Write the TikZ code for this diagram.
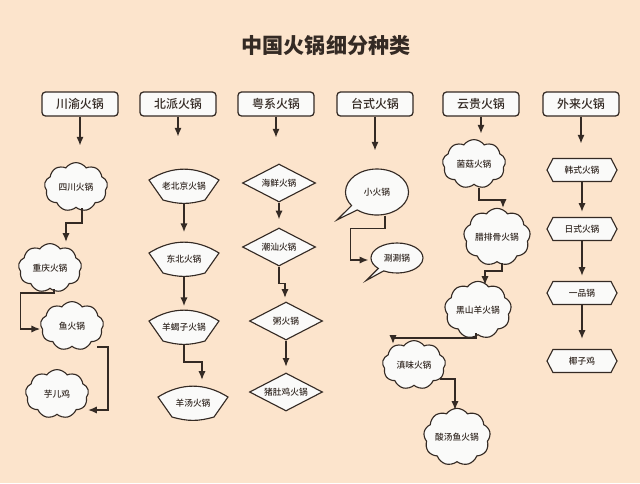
\documentclass[tikz,border=0pt]{standalone}
\usepackage{fontspec}
\setmainfont{Noto Sans CJK SC}
\newfontfamily\cjkmed{Noto Sans CJK SC}[UprightFont=* Medium]
\usetikzlibrary{arrows.meta,shapes.geometric,shapes.symbols,shapes.callouts,positioning}
\definecolor{peach}{RGB}{252,228,204}
\definecolor{ink}{RGB}{52,42,36}
\definecolor{paper}{RGB}{250,250,249}
\pgfdeclarelayer{bg}
\pgfsetlayers{bg,main}

\begin{document}
\begin{tikzpicture}[x=0.025cm, y=-0.025cm, >={Latex[length=2.2mm,width=1.8mm]},
	every node/.style={font=\cjkmed\fontsize{6.2pt}{7pt}\selectfont, text=ink},
	hdbox/.style={draw=ink, fill=paper, line width=0.9pt, rounded corners=2.5pt, minimum width=1.9cm, minimum height=0.6cm, inner sep=0pt, font=\cjkmed\fontsize{8.5pt}{10pt}\selectfont},
	puff/.style={cloud, cloud puffs=9, cloud puff arc=110, aspect=1.25, draw=ink, fill=paper, line width=0.8pt, minimum width=1.58cm, minimum height=1.22cm, inner sep=0pt},
	fan/.style={minimum width=1.75cm, minimum height=0.825cm, inner sep=0pt},
	fanline/.style={draw=ink, fill=paper, line width=0.8pt},
	rhomb/.style={diamond, aspect=2, draw=ink, fill=paper, line width=0.8pt, minimum width=1.825cm, minimum height=0.95cm, inner sep=0pt},
	bubble/.style={ellipse callout, draw=ink, fill=paper, line width=0.8pt, inner sep=0pt},
	hexbox/.style={signal, signal to=west and east, signal pointer angle=125, draw=ink, fill=paper, line width=0.8pt, minimum width=1.75cm, minimum height=0.575cm, inner sep=0pt},
	conn/.style={draw=ink, line width=1.1pt, ->}]
	\useasboundingbox (0,0) rectangle (640,483);

	% title
	\node[font=\fontsize{15pt}{17pt}\selectfont\bfseries] (title) at (326,45) {中国火锅细分种类};

	% column heads
	\node[hdbox] (cy) at (80,104) {川渝火锅};
	\node[hdbox] (bp) at (178,104) {北派火锅};
	\node[hdbox] (yx) at (276,104) {粤系火锅};
	\node[hdbox] (ts) at (375,104) {台式火锅};
	\node[hdbox] (yg) at (481,104) {云贵火锅};
	\node[hdbox] (wl) at (581,104) {外来火锅};
	\foreach \h/\l in {cy/29, bp/20, yx/21, ts/34, yg/17, wl/27} {
		\coordinate (\h-tip) at ([shift={(0,\l)}]\h.south);
		\draw[conn] (\h.south) -- (\h-tip);
	}

	% chuanyu
	\node[puff] (sc) at (76,187) {四川火锅};
	\node[puff] (cq) at (50,268) {重庆火锅};
	\node[puff] (yu) at (72,326) {鱼火锅};
	\node[puff] (ye) at (57,394) {芋儿鸡};
	\draw[conn] ([shift={(6,0)}]sc.south) -- ++(0,15) -| ([shift={(16,-26)}]cq.center);
	\draw[conn] ([shift={(4,0)}]cq.south) -- ++(0,4) -| ([shift={(-20,3)}]yu.west) -- ([shift={(0,3)}]yu.west);
	\draw[conn] ([shift={(25,21)}]yu.center) -| ([shift={(51,16)}]ye.center) -- ([shift={(31,16)}]ye.center);

	% beipai
	\node[fan] (lbj) at (184,186) {老北京火锅};
	\node[fan] (db) at (184,259) {东北火锅};
	\node[fan] (yxz) at (184,327) {羊蝎子火锅};
	\node[fan] (yt) at (193,403) {羊汤火锅};
	\draw[conn, shorten >=0.25cm] (lbj.south) -- (db.north);
	\draw[conn, shorten >=0.1cm] (db.south) -- (yxz.north);
	\draw[conn] (yxz.south) -- ++(0,18) -| ([shift={(9,-23)}]yt.center);

	% yuexi
	\node[rhomb] (hx) at (279,183) {海鲜火锅};
	\node[rhomb] (cs) at (279,247) {潮汕火锅};
	\node[rhomb] (zh) at (286,321) {粥火锅};
	\node[rhomb] (zd) at (286,392) {猪肚鸡火锅};
	\draw[conn, shorten >=0.2cm] (hx.south) -- (cs.north);
	\draw[conn] (cs.south) -- ++(0,17) -| ([shift={(-1,-23)}]zh.center);
	\draw[conn, shorten >=0.14cm] (zh.south) -- (zd.north);

	% taishi
	\node[bubble, minimum width=1.575cm, minimum height=1.15cm, callout relative pointer={(-0.43cm,-0.3cm)}] (xh) at (377,192) {小火锅};
	\node[bubble, minimum width=1.3cm, minimum height=0.75cm, callout relative pointer={(-0.37cm,-0.27cm)}] (ss) at (397,258) {涮涮锅};
	\draw[conn] ([shift={(8,0)}]xh.south) -- ++(0,13) -| ([shift={(-20,2)}]ss.west) -- ([shift={(-2,2)}]ss.west);

	% yungui
	\node[puff] (jg) at (474,164) {菌菇火锅};
	\node[puff] (lp) at (497,237) {腊排骨火锅};
	\node[puff] (hs) at (478,310) {黑山羊火锅};
	\node[puff] (dw) at (414,365) {滇味火锅};
	\node[puff] (st) at (457,437) {酸汤鱼火锅};
	\draw[conn] ([shift={(5,24)}]jg.center) -- ++(0,12) -| ([shift={(6,-29)}]lp.center);
	\draw[conn] ([shift={(5,26)}]lp.center) -- ++(0,8) -| ([shift={(7,-25)}]hs.center);
	\draw[conn] ([shift={(-2,23)}]hs.center) -- ++(0,5) -| ([shift={(-21,-21)}]dw.center);
	\draw[conn] ([shift={(26,14)}]dw.center) -| ([shift={(-2,-27)}]st.center);

	% wailai
	\node[hexbox] (hg) at (582,170) {韩式火锅};
	\node[hexbox] (rs) at (582,229) {日式火锅};
	\node[hexbox] (yp) at (582,293) {一品锅};
	\node[hexbox] (yz) at (582,361) {椰子鸡};
	\draw[conn, shorten >=0.125cm] (hg.south) -- (rs.north);
	\draw[conn, shorten >=0.125cm] (rs.south) -- (yp.north);
	\draw[conn, shorten >=0.25cm] (yp.south) -- (yz.north);

	\begin{pgfonlayer}{bg}
		\fill[peach] (0,0) rectangle (640,483);
		\foreach \n in {lbj,db,yxz,yt}
			\draw[fanline] ([shift={(-35,-6)}]\n.center) to[bend left=32] ([shift={(35,-6)}]\n.center)
				-- ([shift={(21,14)}]\n.center) to[bend left=16] ([shift={(-21,14)}]\n.center) -- cycle;
	\end{pgfonlayer}
\end{tikzpicture}
\end{document}
